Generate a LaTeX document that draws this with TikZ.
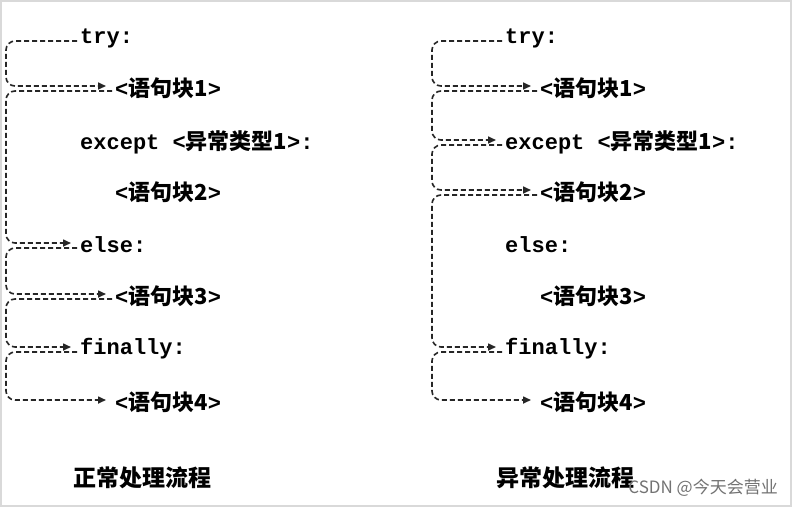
\documentclass[tikz,border=0pt]{standalone}
\usepackage{fontspec}
\setmonofont{Liberation Mono}
\newfontfamily\cjk{Noto Sans CJK SC}
\usetikzlibrary{arrows.meta}
\begin{document}
\begin{tikzpicture}[x=1pt,y=-1pt,
  code/.style={anchor=west,inner sep=0pt,font=\ttfamily\bfseries\fontsize{22}{24}\selectfont},
  captext/.style={inner sep=0pt,font=\cjk\bfseries\fontsize{23}{25}\selectfont},
  flow/.style={draw=black!85,line width=1.6pt,dash pattern=on 5pt off 3pt,rounded corners=9pt},
  tip/.style={-{Triangle[length=8pt,width=7pt]}}]
\useasboundingbox (0,0) rectangle (792,507);
\fill[white] (0,0) rectangle (792,507);
\draw[black!15,line width=2pt] (1,1) rectangle (791,506);
\newcommand{\blk}[1]{<{\cjk\bfseries 语句块#1}>}
% left
\node[code] (ltry) at (80,38) {try:};
\node[code] (lb1) at (115,88) {\blk{1}};
\node[code] (lex) at (80,142) {except <{\cjk\bfseries 异常类型1}>:};
\node[code] (lb2) at (115,192) {\blk{2}};
\node[code] (lel) at (80,245) {else:};
\node[code] (lb3) at (115,296) {\blk{3}};
\node[code] (lfi) at (80,349) {finally:};
\node[code] (lb4) at (115,402) {\blk{4}};
% right
\node[code] (rtry) at (505,38) {try:};
\node[code] (rb1) at (540,88) {\blk{1}};
\node[code] (rex) at (505,142) {except <{\cjk\bfseries 异常类型1}>:};
\node[code] (rb2) at (540,192) {\blk{2}};
\node[code] (rel) at (505,245) {else:};
\node[code] (rb3) at (540,296) {\blk{3}};
\node[code] (rfi) at (505,349) {finally:};
\node[code] (rb4) at (540,402) {\blk{4}};
\foreach \a/\b in {ltry/lb1,lb1/lel,lel/lb3,lb3/lfi,lfi/lb4}{
  \draw[flow,tip] ([xshift=-3pt,yshift=-3pt]\a.west) -- ([yshift=-3pt]6,0|-\a.west) -- ([yshift=2pt]6,0|-\b.west) -- ([xshift=-9pt,yshift=2pt]\b.west);}
\foreach \a/\b in {rtry/rb1,rb1/rex,rex/rb2,rb2/rfi,rfi/rb4}{
  \draw[flow,tip] ([xshift=-3pt,yshift=-3pt]\a.west) -- ([yshift=-3pt]432,0|-\a.west) -- ([yshift=2pt]432,0|-\b.west) -- ([xshift=-9pt,yshift=2pt]\b.west);}
\node[captext] (c1) at (142,478) {正常处理流程};
\node[captext] (c2) at (565,478) {异常处理流程};
\node[inner sep=0pt,anchor=east,text=black!55,font=\cjk\fontsize{17}{19}\selectfont] (wm) at (778,488) {CSDN @今天会营业};
\end{tikzpicture}
\end{document}
